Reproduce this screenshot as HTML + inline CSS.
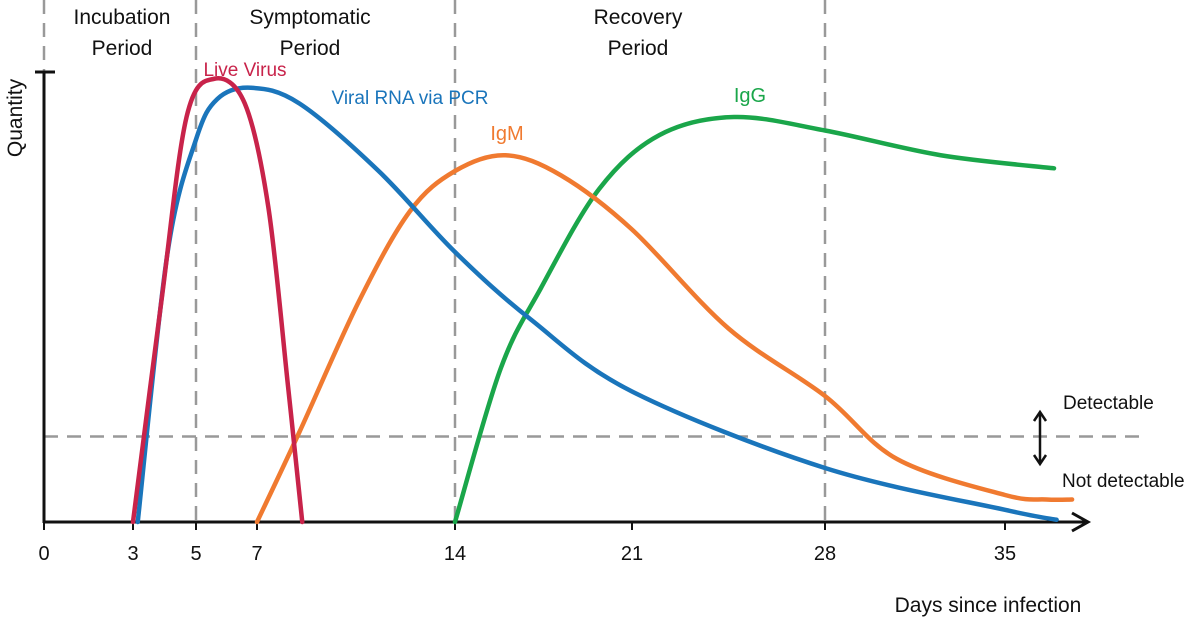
<!DOCTYPE html>
<html><head><meta charset="utf-8"><style>
body{margin:0;background:#fff}
svg{display:block;font-family:"Liberation Sans",sans-serif}
</style></head><body>
<svg id="c" width="1200" height="621"></svg>
<script>
const tickDays=[0,3,5,7,14,21,28,35];
const liveVirus=[[3,0],[3.9,49],[4.7,90],[5.6,98.5],[6.6,93],[7.4,70],[8.1,30],[8.6,0]];
const viralRNA=[[3.15,0],[4.1,60],[5,85],[5.7,94],[6.8,96.5],[8.5,93],[11.3,78],[14,60],[17,45],[21,29],[28,12],[35,2.7],[37,0.5]];
const igm=[[7,0],[8.5,20],[10.6,49],[12.4,69],[14,78],[16,81.5],[18.2,77],[21,65],[24.5,43],[28,28],[30.8,14],[35,6],[36.6,5],[37.6,5]];
const igg=[[14,0],[15.8,34],[17.4,52],[19.7,74],[22,86],[24.7,90],[28,87],[32.5,81.5],[36.9,78.6]];
const threshold=19;
const periodLines=[5,14,28];

const xd=[0,3,5,7,14,21,28,35,40],xr=[44,133,196,257,455,632,825,1005,1134];
function x(d){for(let i=0;i<xd.length-1;i++){if(d<=xd[i+1]||i==xd.length-2){const t=(d-xd[i])/(xd[i+1]-xd[i]);return xr[i]+t*(xr[i+1]-xr[i]);}}}
function y(v){return 522-4.5*v;}
const svg=document.getElementById('c');const NS='http://www.w3.org/2000/svg';
function mk(tag,attrs,name,parent){const e=document.createElementNS(NS,tag);for(const k in attrs)e.setAttribute(k,attrs[k]);


(parent||svg).appendChild(e);return e;}
function txt(s,px,py,name,opt){const e=mk('text',Object.assign({x:px,y:py,'font-size':21,fill:'#111','text-anchor':'middle'},opt||{}),name);e.textContent=s;return e;}
mk('line',{x1:44,y1:0,x2:44,y2:72,stroke:'#999','stroke-width':2.5,'stroke-dasharray':'14,9'},'period-line-start');
periodLines.forEach(d=>{mk('line',{x1:x(d),y1:0,x2:x(d),y2:522,stroke:'#999','stroke-width':2.5,'stroke-dasharray':'14,9'},'period-line');});
mk('line',{x1:44,y1:y(threshold),x2:1145,y2:y(threshold),stroke:'#999','stroke-width':2.5,'stroke-dasharray':'14,9'},'detection-threshold-line');
mk('line',{x1:44,y1:72,x2:44,y2:523,stroke:'#111','stroke-width':3},'y-axis');
mk('line',{x1:35,y1:72,x2:55,y2:72,stroke:'#111','stroke-width':3},'y-axis-top-tick');
mk('line',{x1:43,y1:522,x2:1085,y2:522,stroke:'#111','stroke-width':3},'x-axis');
mk('path',{d:'M1072,513 L1088,522 L1072,531',fill:'none',stroke:'#111','stroke-width':3},'x-axis-arrow');
tickDays.forEach(d=>{mk('line',{x1:x(d),y1:522,x2:x(d),y2:530,stroke:'#111','stroke-width':2},'x-tick');
txt(String(d),x(d),560,'x-tick-label',{'font-size':20});});
function path(pts){const p=pts.map(a=>[x(a[0]),y(a[1])]);let d='M'+p[0][0]+','+p[0][1];
for(let i=0;i<p.length-1;i++){const p0=p[i-1]||p[i],p1=p[i],p2=p[i+1],p3=p[i+2]||p2;
d+=' C'+(p1[0]+(p2[0]-p0[0])/6)+','+(p1[1]+(p2[1]-p0[1])/6)+' '+(p2[0]-(p3[0]-p1[0])/6)+','+(p2[1]-(p3[1]-p1[1])/6)+' '+p2[0]+','+p2[1];}return d;}
const series=[[igg,'#1aa64a','igg-line'],[igm,'#f07a30','igm-line'],[viralRNA,'#1a75bb','viral-rna-line'],[liveVirus,'#c8234a','live-virus-line']];
series.forEach(s=>mk('path',{d:path(s[0]),fill:'none',stroke:s[1],'stroke-width':4.5,'stroke-linecap':'round'},s[2]));
txt('Incubation',122,24,'period-label-incubation');txt('Period',122,55,'period-label-incubation-2');
txt('Symptomatic',310,24,'period-label-symptomatic');txt('Period',310,55,'period-label-symptomatic-2');
txt('Recovery',638,24,'period-label-recovery');txt('Period',638,55,'period-label-recovery-2');
txt('Live Virus',245,76,'live-virus-label',{fill:'#c8234a','font-size':19});
txt('Viral RNA via PCR',410,104,'viral-rna-label',{fill:'#1a75bb','font-size':19});
txt('IgM',507,140,'igm-label',{fill:'#f07a30','font-size':20});
txt('IgG',750,102,'igg-label',{fill:'#1aa64a','font-size':20});
txt('Detectable',1063,409,'detectable-label',{'font-size':19,'text-anchor':'start'});
txt('Not detectable',1062,487,'not-detectable-label',{'font-size':19,'text-anchor':'start'});
mk('line',{x1:1040,y1:414,x2:1040,y2:462,stroke:'#111','stroke-width':2.5},'detectable-arrow');
mk('path',{d:'M1034,421 L1040,412 L1046,421 M1034,455 L1040,464 L1046,455',fill:'none',stroke:'#111','stroke-width':2.5},'detectable-arrow-heads');
txt('Days since infection',988,612,'x-axis-title',{'font-size':21});
txt('Quantity',22,118,'y-axis-title',{'font-size':21,transform:'rotate(-90 22 118)'});
</script>
</body></html>
